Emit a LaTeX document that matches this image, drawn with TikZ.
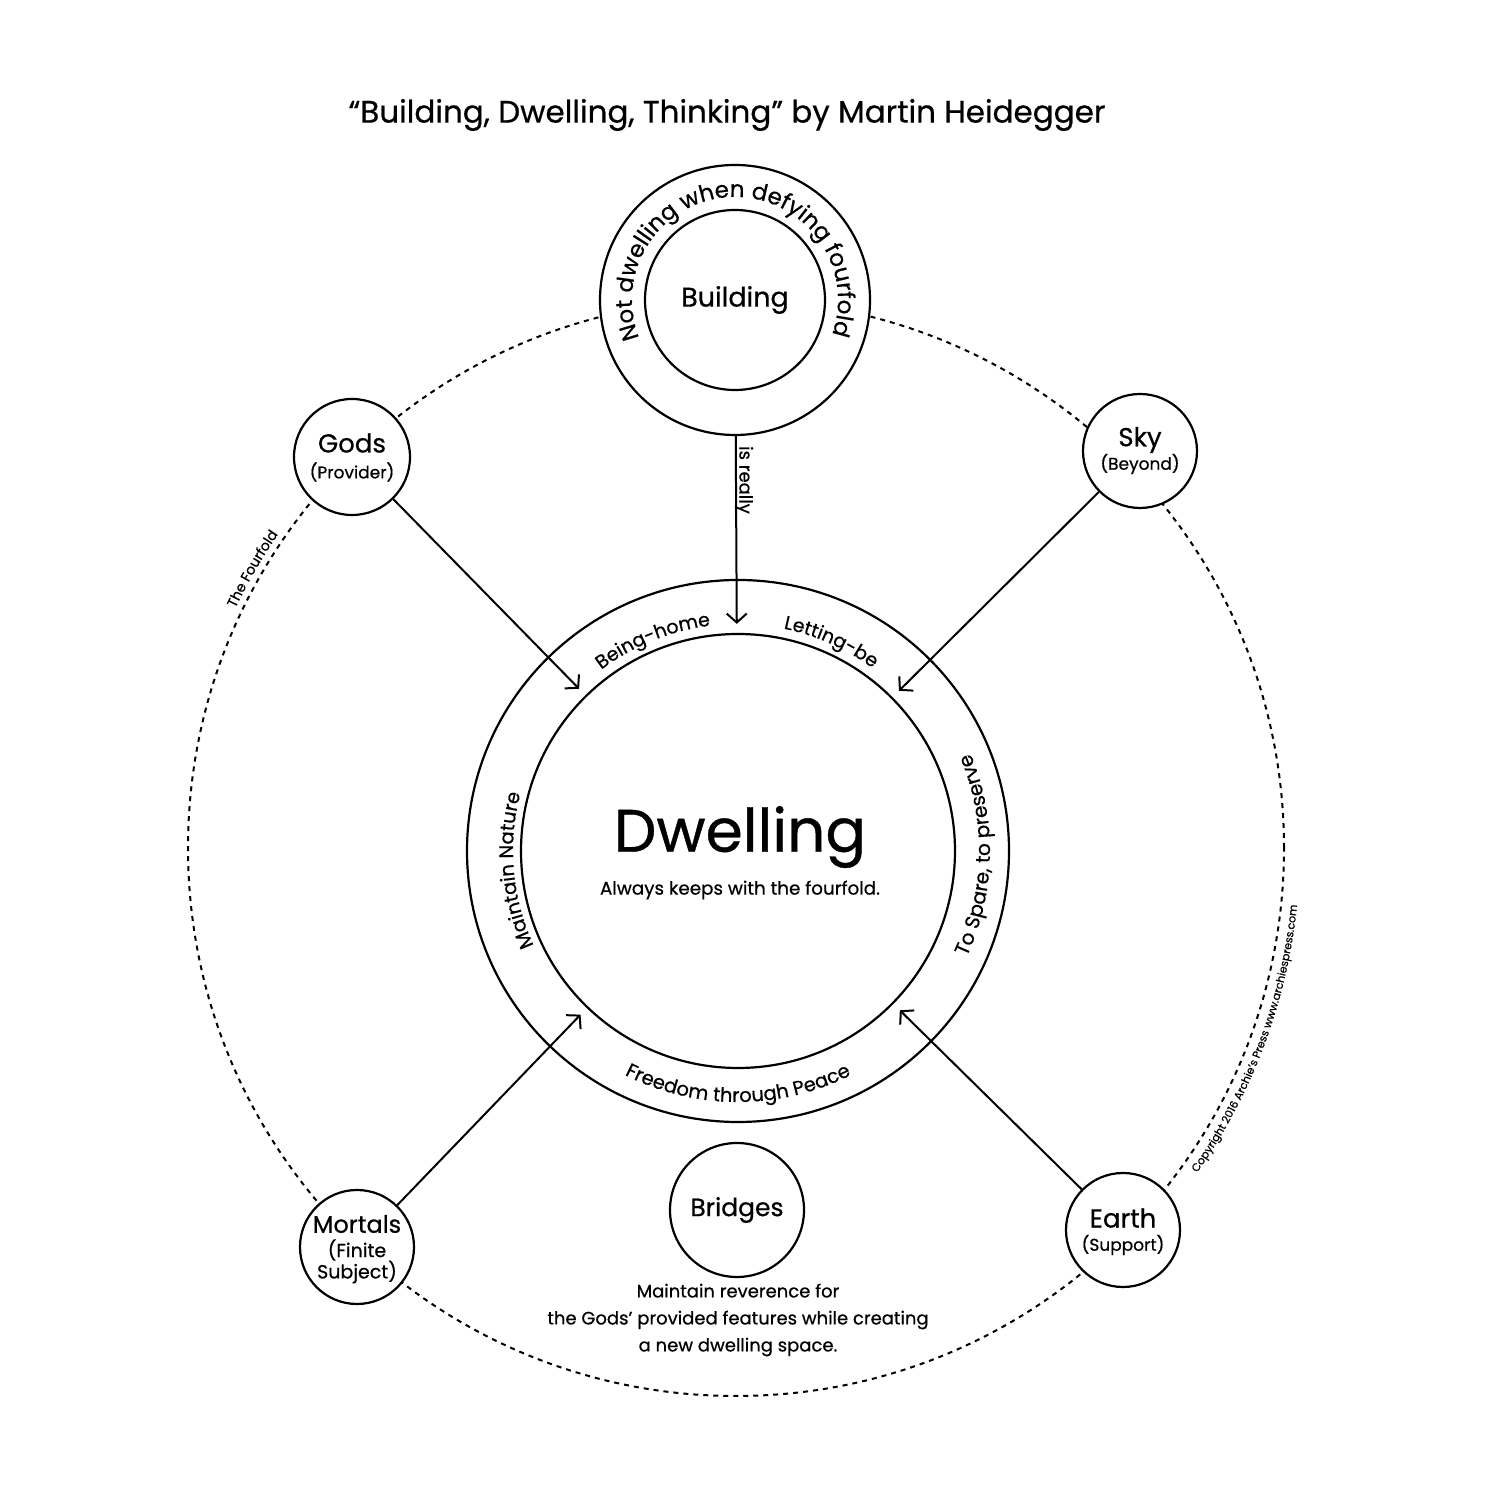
\documentclass[tikz,border=0pt]{standalone}
\usepackage{fontspec}
\setmainfont{Poppins}[FakeBold=0.6]
\usetikzlibrary{arrows.meta,decorations.text,calc}
\newcommand\fsz[1]{\fontsize{#1}{#1}\selectfont}
\begin{document}
\begin{tikzpicture}[x=1pt,y=1pt,
  ring/.style={circle,draw,line width=2.2pt,inner sep=0pt,fill=white},
  fourfold/.style={circle,draw,line width=2pt,dash pattern=on 5pt off 5pt,inner sep=0pt},
  arr/.style={line width=2pt,-{Straight Barb[length=9pt,width=20pt,line width=2pt]},shorten >=9pt},
  big/.style={font=\fsz{26}},
  small/.style={font=\fsz{17}},
  arctext/.style={decorate,decoration={text along path,text align=center,text={#1}}}]
\useasboundingbox (0,0) rectangle (1500,1500);
\fill[white] (0,0) rectangle (1500,1500);
\coordinate (dwc) at (738,649);
\coordinate (bc) at (735,1200);
\coordinate (ffc) at (736,652);
% the fourfold dashed circle
\node[fourfold,minimum size=1096pt,fill=none] (ff) at (ffc) {};
% title
\node[font=\fsz{31}] (title) at (727,1385) {“Building, Dwelling, Thinking” by Martin Heidegger};
% building
\node[ring,minimum size=270pt] (bout) at (bc) {};
\node[ring,minimum size=180pt] (bin) at (bc) {};
\node[font=\fsz{27}] (buildT) at (bc) {Building};
\path[arctext={|\fsz{23}|Not dwelling when defying fourfold}] ($(bc)+(250:103pt)$) arc[start angle=250,end angle=-68,radius=103pt];
% dwelling
\node[ring,minimum size=542pt] (dwout) at (dwc) {};
\node[ring,minimum size=434pt] (dwin) at (dwc) {};
\node[font=\fsz{60}] (dwT) at (740,663) {Dwelling};
\node[font=\fsz{18.3}] (dwS) at (740,610) {Always keeps with the fourfold.};
\path[arctext={|\fsz{19}|Being-home}] ($(dwc)+(150:227pt)$) arc[start angle=150,end angle=74,radius=227pt];
\path[arctext={|\fsz{19}|Letting-be}] ($(dwc)+(104:227pt)$) arc[start angle=104,end angle=28,radius=227pt];
\path[arctext={|\fsz{19.5}|Maintain Nature}] ($(dwc)+(235:225pt)$) arc[start angle=235,end angle=135,radius=225pt];
\path[arctext={|\fsz{20}|To Spare, to preserve}] ($(dwc)+(-51:252pt)$) arc[start angle=-51,end angle=49,radius=252pt];
\path[arctext={|\fsz{19.5}|Freedom through Peace}] ($(dwc)+(215:251pt)$) arc[start angle=215,end angle=325,radius=251pt];
% fourfold labels
\path[arctext={|\fsz{14}|The Fourfold}] ($(ffc)+(170:555pt)$) arc[start angle=170,end angle=130,radius=555pt];
\path[arctext={|\fsz{11}|Copyright 2016 Archie’s Press www.archiespress.com}] ($(ffc)+(-45:564pt)$) arc[start angle=-45,end angle=4,radius=564pt];
% the four
\node[ring,minimum size=116pt] (gods) at (352,1043) {};
\node[big] (godsT) at (352,1057) {Gods};
\node[small] (godsS) at (352,1028) {(Provider)};
\node[ring,minimum size=114pt] (sky) at (1140,1049) {};
\node[big] (skyT) at (1140,1060) {Sky};
\node[small] (skyS) at (1140,1036) {(Beyond)};
\node[ring,minimum size=114pt] (mortals) at (357,253) {};
\node[font=\fsz{24}] (mortT) at (357,276) {Mortals};
\node[font=\fsz{19}] (mortS1) at (357,250) {(Finite};
\node[font=\fsz{19}] (mortS2) at (357,228) {Subject)};
\node[ring,minimum size=114pt] (earth) at (1123,270) {};
\node[big] (earthT) at (1123,282) {Earth};
\node[small] (earthS) at (1123,255) {(Support)};
% bridges
\node[ring,minimum size=134pt] (bridges) at (737,290) {};
\node[font=\fsz{25}] (bridT) at (737,290) {Bridges};
\node[font={\fontsize{18}{27}\selectfont},align=center] (bridS) at (738,180) {Maintain reverence for\\the Gods’ provided features while creating\\a new dwelling space.};
% arrows
\draw[arr] (bout) -- (dwin);
\node[font=\fsz{18},rotate=-90] (isreally) at (744,1020) {is really};
\draw[arr] (gods) -- (dwin);
\draw[arr] (sky) -- (dwin);
\draw[arr] (mortals) -- (dwin);
\draw[arr] (earth) -- (dwin);
\end{tikzpicture}
\end{document}
